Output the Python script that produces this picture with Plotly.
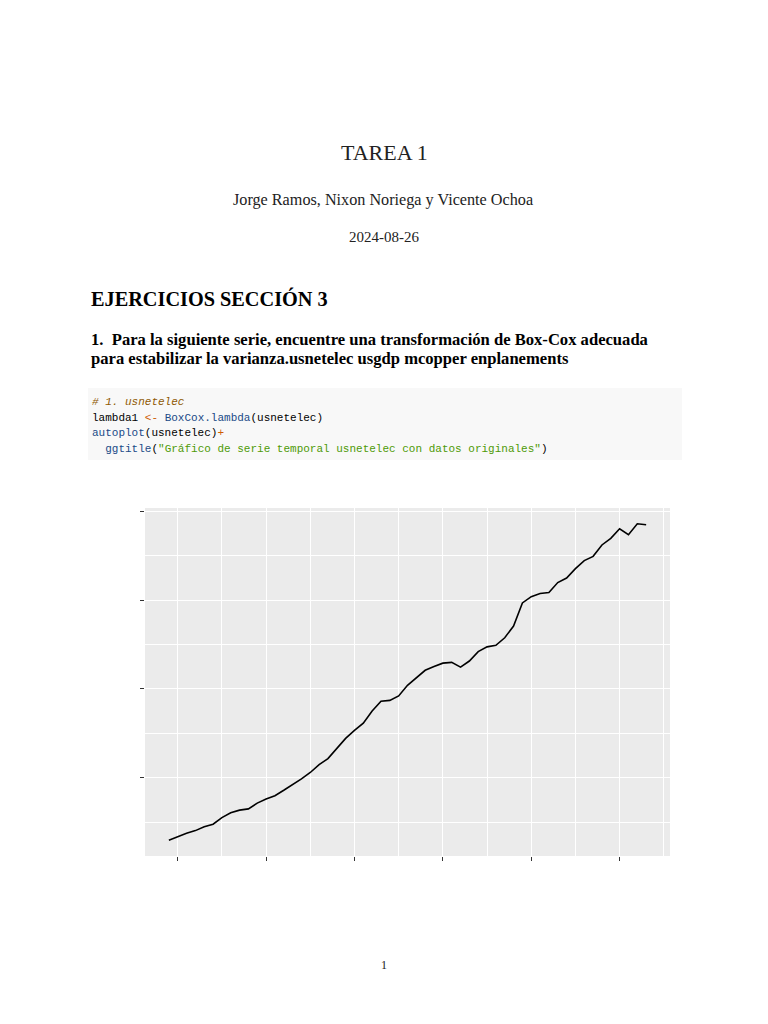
import plotly.graph_objects as go

years = list(range(1949, 2004))
usnetelec = [296.1, 334.1, 375.3, 403.8, 447.0, 476.3, 550.3, 603.9, 634.6, 648.5,
             713.4, 759.2, 797.1, 857.9, 920.0, 987.2, 1058.4, 1147.5, 1214.4, 1329.4,
             1442.2, 1531.6, 1613.9, 1750.8, 1861.4, 1870.3, 1920.8, 2040.0, 2127.4, 2209.4,
             2250.7, 2289.6, 2298.0, 2244.4, 2313.4, 2419.5, 2473.0, 2490.5, 2575.3, 2707.4,
             2967.3, 3038.0, 3073.8, 3083.9, 3197.2, 3247.5, 3353.5, 3444.2, 3492.2, 3620.3,
             3694.8, 3802.1, 3736.6, 3858.5, 3848.0]

W, H = 768, 1024

def px(x):
    return x / W

def py(y):
    return 1 - y / H

fig = go.Figure()
fig.add_trace(go.Scatter(x=years, y=usnetelec, mode="lines",
                         line=dict(color="black", width=1.6), showlegend=False,
                         hoverinfo="skip"))

ymin, ymax = min(usnetelec), max(usnetelec)
yr = ymax - ymin
xr = years[-1] - years[0]

fig.update_layout(
    width=W, height=H, margin=dict(l=0, r=0, t=0, b=0),
    paper_bgcolor="white", plot_bgcolor="#ebebeb",
    xaxis=dict(domain=[px(145), px(670)],
               range=[years[0] - 0.05 * xr, years[-1] + 0.05 * xr],
               tick0=1950, dtick=10, showticklabels=False,
               ticks="outside", ticklen=4, tickwidth=1.2, tickcolor="#333333",
               showgrid=True, gridcolor="white", gridwidth=1.4,
               minor=dict(dtick=5, tick0=1945, showgrid=True, gridcolor="white", gridwidth=0.7),
               zeroline=False, showline=False),
    yaxis=dict(domain=[py(856), py(508)],
               range=[ymin - 0.05 * yr, ymax + 0.05 * yr],
               tick0=0, dtick=1000, showticklabels=False,
               ticks="outside", ticklen=4, tickwidth=1.2, tickcolor="#333333",
               showgrid=True, gridcolor="white", gridwidth=1.4,
               minor=dict(dtick=500, tick0=0, showgrid=True, gridcolor="white", gridwidth=0.7),
               zeroline=False, showline=False),
)

# code block background
fig.add_shape(type="rect", xref="paper", yref="paper",
              x0=px(88), x1=px(682), y0=py(460), y1=py(388),
              fillcolor="#f8f8f8", line=dict(width=0), layer="below")

serif = "Liberation Serif"
mono = "Liberation Mono"

def txt(x, y, text, size, font=serif, xanchor="left", color="black"):
    fig.add_annotation(x=px(x), y=py(y), xref="paper", yref="paper", text=text,
                       showarrow=False, xanchor=xanchor, yanchor="middle",
                       font=dict(family=font, size=size, color=color))

txt(384, 152, "TAREA 1", 22, xanchor="center", color="#222222")
txt(383, 200, "Jorge Ramos, Nixon Noriega y Vicente Ochoa", 16.2, xanchor="center", color="#222222")
txt(384, 237, "2024-08-26", 15, xanchor="center", color="#222222")
txt(89, 298, "<b>EJERCICIOS SECCIÓN 3</b>", 20.3)
txt(89, 339, "<b>1.  Para la siguiente serie, encuentre una transformación de Box-Cox adecuada</b>", 16.6)
txt(89, 358, "<b>para estabilizar la varianza.usnetelec usgdp mcopper enplanements</b>", 16.6)

BLUE = "#204a87"
ORANGE = "#ce5c00"
BROWN = "#8f5902"
GREEN = "#4e9a06"

txt(90, 402, f'<i><span style="color:{BROWN}"># 1. usnetelec</span></i>', 11, font=mono)
txt(90, 418, f'lambda1 <span style="color:{ORANGE}">&lt;-</span> <span style="color:{BLUE}">BoxCox.lambda</span>(usnetelec)', 11, font=mono)
txt(90, 433, f'<span style="color:{BLUE}">autoplot</span>(usnetelec)<span style="color:{ORANGE}">+</span>', 11, font=mono)
txt(90, 449, f'  <span style="color:{BLUE}">ggtitle</span>(<span style="color:{GREEN}">"Gráfico de serie temporal usnetelec con datos originales"</span>)', 11, font=mono)

txt(384, 965, "1", 12, xanchor="center", color="#222222")

fig.write_html("out.html")
